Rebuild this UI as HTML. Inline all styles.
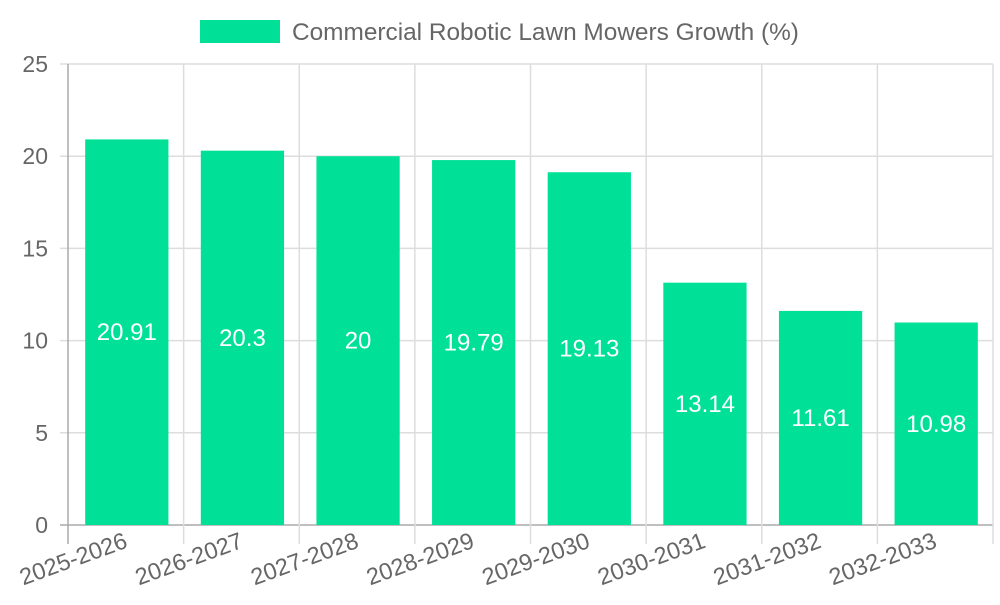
<!DOCTYPE html>
<html><head><meta charset="utf-8"><style>
body{margin:0;background:#fff;font-family:"Liberation Sans",sans-serif}
svg text{font-family:"Liberation Sans",sans-serif}
</style></head><body>
<svg id="c" width="1000" height="600"></svg>
<script>
const categories=["2025-2026","2026-2027","2027-2028","2028-2029","2029-2030","2030-2031","2031-2032","2032-2033"];
const values=[20.91,20.3,20,19.79,19.13,13.14,11.61,10.98];
const yTicks=[0,5,10,15,20,25];
const seriesName="Commercial Robotic Lawn Mowers Growth (%)";
const L=68,R=993,T=64,B=525,yMax=25;
const NS="http://www.w3.org/2000/svg";
const svg=document.getElementById('c');
const y=v=>B-(v/yMax)*(B-T);
const step=(R-L)/categories.length;
const x=i=>L+step*i;
function mk(t,a,p){const e=document.createElementNS(NS,t);for(const k in a)e.setAttribute(k,a[k]);(p||svg).appendChild(e);return e;}
const lg=mk('g',{});


mk('rect',{x:200,y:20,width:80,height:23,fill:'#00e096'},lg);
const lt=mk('text',{x:292,y:40,'font-size':24.4,fill:'#666'},lg);lt.textContent=seriesName;
yTicks.forEach(v=>{
  const g=mk('line',{x1:L-8,x2:R,y1:y(v),y2:y(v),stroke:v===0?'#aaa':'#ddd','stroke-width':1.5});
  
  
  const t=mk('text',{x:L-20,y:y(v)+8,'font-size':23,fill:'#666','text-anchor':'end'});
  
  
  t.textContent=v;
});
for(let i=0;i<=categories.length;i++){
  const g=mk('line',{x1:x(i),x2:x(i),y1:T,y2:B+19,stroke:i===0?'#aaa':'#ddd','stroke-width':1.5});
  
  
}
categories.forEach((c,i)=>{
  const bw=step*0.72,cx=x(i)+step/2+1;
  const r=mk('rect',{x:cx-bw/2,y:y(values[i]),width:bw,height:B-y(values[i]),fill:'#00e096'});
  
  
  const t=mk('text',{x:cx,y:(y(values[i])+B)/2+8,'font-size':24,fill:'#fff','text-anchor':'middle'});
  
  
  t.textContent=values[i];
  const xl=mk('text',{x:cx+2,y:547,'font-size':23.5,fill:'#666','text-anchor':'end',transform:`rotate(-20 ${cx+2} 547)`});
  
  
  xl.textContent=c;
});
</script>
</body></html>
